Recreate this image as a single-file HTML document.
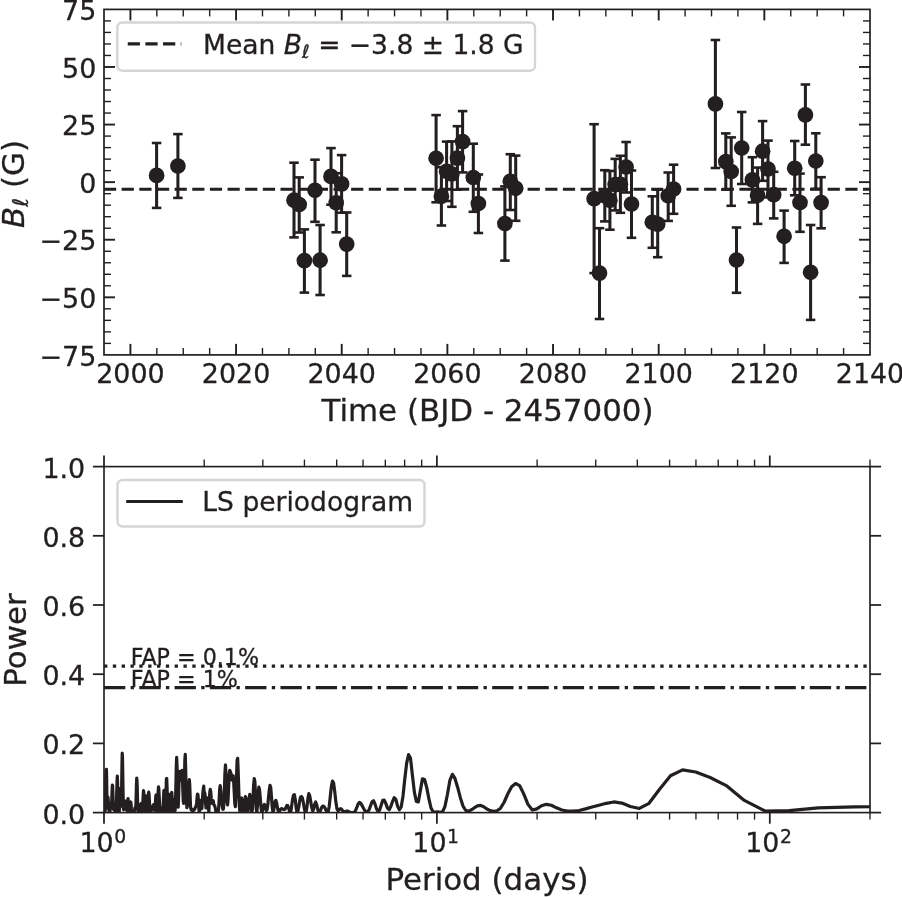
<!DOCTYPE html>
<html><head><meta charset="utf-8"><title>Figure</title><style>html,body{margin:0;padding:0;background:#fff}svg{display:block}</style></head><body>
<svg width="902" height="897" viewBox="0 0 902 897" font-family='"DejaVu Sans","Liberation Sans",sans-serif' fill="#231f20"><style>text{stroke:#231f20;stroke-width:0.3px}</style><defs><clipPath id="c2"><rect x="104.0" y="466.6" width="766.0" height="346.0"/></clipPath></defs>
<rect x="104.0" y="9.4" width="766.0" height="345.5" fill="none" stroke="#231f20" stroke-width="1.7"/>
<line x1="130.41" y1="354.90" x2="130.41" y2="343.90" stroke="#231f20" stroke-width="1.9" />
<line x1="130.41" y1="9.40" x2="130.41" y2="20.40" stroke="#231f20" stroke-width="1.9" />
<line x1="156.83" y1="354.90" x2="156.83" y2="347.90" stroke="#231f20" stroke-width="1.4" />
<line x1="156.83" y1="9.40" x2="156.83" y2="16.40" stroke="#231f20" stroke-width="1.4" />
<line x1="183.24" y1="354.90" x2="183.24" y2="347.90" stroke="#231f20" stroke-width="1.4" />
<line x1="183.24" y1="9.40" x2="183.24" y2="16.40" stroke="#231f20" stroke-width="1.4" />
<line x1="209.66" y1="354.90" x2="209.66" y2="347.90" stroke="#231f20" stroke-width="1.4" />
<line x1="209.66" y1="9.40" x2="209.66" y2="16.40" stroke="#231f20" stroke-width="1.4" />
<line x1="236.07" y1="354.90" x2="236.07" y2="343.90" stroke="#231f20" stroke-width="1.9" />
<line x1="236.07" y1="9.40" x2="236.07" y2="20.40" stroke="#231f20" stroke-width="1.9" />
<line x1="262.48" y1="354.90" x2="262.48" y2="347.90" stroke="#231f20" stroke-width="1.4" />
<line x1="262.48" y1="9.40" x2="262.48" y2="16.40" stroke="#231f20" stroke-width="1.4" />
<line x1="288.90" y1="354.90" x2="288.90" y2="347.90" stroke="#231f20" stroke-width="1.4" />
<line x1="288.90" y1="9.40" x2="288.90" y2="16.40" stroke="#231f20" stroke-width="1.4" />
<line x1="315.31" y1="354.90" x2="315.31" y2="347.90" stroke="#231f20" stroke-width="1.4" />
<line x1="315.31" y1="9.40" x2="315.31" y2="16.40" stroke="#231f20" stroke-width="1.4" />
<line x1="341.72" y1="354.90" x2="341.72" y2="343.90" stroke="#231f20" stroke-width="1.9" />
<line x1="341.72" y1="9.40" x2="341.72" y2="20.40" stroke="#231f20" stroke-width="1.9" />
<line x1="368.14" y1="354.90" x2="368.14" y2="347.90" stroke="#231f20" stroke-width="1.4" />
<line x1="368.14" y1="9.40" x2="368.14" y2="16.40" stroke="#231f20" stroke-width="1.4" />
<line x1="394.55" y1="354.90" x2="394.55" y2="347.90" stroke="#231f20" stroke-width="1.4" />
<line x1="394.55" y1="9.40" x2="394.55" y2="16.40" stroke="#231f20" stroke-width="1.4" />
<line x1="420.97" y1="354.90" x2="420.97" y2="347.90" stroke="#231f20" stroke-width="1.4" />
<line x1="420.97" y1="9.40" x2="420.97" y2="16.40" stroke="#231f20" stroke-width="1.4" />
<line x1="447.38" y1="354.90" x2="447.38" y2="343.90" stroke="#231f20" stroke-width="1.9" />
<line x1="447.38" y1="9.40" x2="447.38" y2="20.40" stroke="#231f20" stroke-width="1.9" />
<line x1="473.79" y1="354.90" x2="473.79" y2="347.90" stroke="#231f20" stroke-width="1.4" />
<line x1="473.79" y1="9.40" x2="473.79" y2="16.40" stroke="#231f20" stroke-width="1.4" />
<line x1="500.21" y1="354.90" x2="500.21" y2="347.90" stroke="#231f20" stroke-width="1.4" />
<line x1="500.21" y1="9.40" x2="500.21" y2="16.40" stroke="#231f20" stroke-width="1.4" />
<line x1="526.62" y1="354.90" x2="526.62" y2="347.90" stroke="#231f20" stroke-width="1.4" />
<line x1="526.62" y1="9.40" x2="526.62" y2="16.40" stroke="#231f20" stroke-width="1.4" />
<line x1="553.03" y1="354.90" x2="553.03" y2="343.90" stroke="#231f20" stroke-width="1.9" />
<line x1="553.03" y1="9.40" x2="553.03" y2="20.40" stroke="#231f20" stroke-width="1.9" />
<line x1="579.45" y1="354.90" x2="579.45" y2="347.90" stroke="#231f20" stroke-width="1.4" />
<line x1="579.45" y1="9.40" x2="579.45" y2="16.40" stroke="#231f20" stroke-width="1.4" />
<line x1="605.86" y1="354.90" x2="605.86" y2="347.90" stroke="#231f20" stroke-width="1.4" />
<line x1="605.86" y1="9.40" x2="605.86" y2="16.40" stroke="#231f20" stroke-width="1.4" />
<line x1="632.28" y1="354.90" x2="632.28" y2="347.90" stroke="#231f20" stroke-width="1.4" />
<line x1="632.28" y1="9.40" x2="632.28" y2="16.40" stroke="#231f20" stroke-width="1.4" />
<line x1="658.69" y1="354.90" x2="658.69" y2="343.90" stroke="#231f20" stroke-width="1.9" />
<line x1="658.69" y1="9.40" x2="658.69" y2="20.40" stroke="#231f20" stroke-width="1.9" />
<line x1="685.10" y1="354.90" x2="685.10" y2="347.90" stroke="#231f20" stroke-width="1.4" />
<line x1="685.10" y1="9.40" x2="685.10" y2="16.40" stroke="#231f20" stroke-width="1.4" />
<line x1="711.52" y1="354.90" x2="711.52" y2="347.90" stroke="#231f20" stroke-width="1.4" />
<line x1="711.52" y1="9.40" x2="711.52" y2="16.40" stroke="#231f20" stroke-width="1.4" />
<line x1="737.93" y1="354.90" x2="737.93" y2="347.90" stroke="#231f20" stroke-width="1.4" />
<line x1="737.93" y1="9.40" x2="737.93" y2="16.40" stroke="#231f20" stroke-width="1.4" />
<line x1="764.34" y1="354.90" x2="764.34" y2="343.90" stroke="#231f20" stroke-width="1.9" />
<line x1="764.34" y1="9.40" x2="764.34" y2="20.40" stroke="#231f20" stroke-width="1.9" />
<line x1="790.76" y1="354.90" x2="790.76" y2="347.90" stroke="#231f20" stroke-width="1.4" />
<line x1="790.76" y1="9.40" x2="790.76" y2="16.40" stroke="#231f20" stroke-width="1.4" />
<line x1="817.17" y1="354.90" x2="817.17" y2="347.90" stroke="#231f20" stroke-width="1.4" />
<line x1="817.17" y1="9.40" x2="817.17" y2="16.40" stroke="#231f20" stroke-width="1.4" />
<line x1="843.59" y1="354.90" x2="843.59" y2="347.90" stroke="#231f20" stroke-width="1.4" />
<line x1="843.59" y1="9.40" x2="843.59" y2="16.40" stroke="#231f20" stroke-width="1.4" />
<line x1="104.00" y1="343.38" x2="111.00" y2="343.38" stroke="#231f20" stroke-width="1.4" />
<line x1="870.00" y1="343.38" x2="863.00" y2="343.38" stroke="#231f20" stroke-width="1.4" />
<line x1="104.00" y1="331.87" x2="111.00" y2="331.87" stroke="#231f20" stroke-width="1.4" />
<line x1="870.00" y1="331.87" x2="863.00" y2="331.87" stroke="#231f20" stroke-width="1.4" />
<line x1="104.00" y1="320.35" x2="111.00" y2="320.35" stroke="#231f20" stroke-width="1.4" />
<line x1="870.00" y1="320.35" x2="863.00" y2="320.35" stroke="#231f20" stroke-width="1.4" />
<line x1="104.00" y1="308.83" x2="111.00" y2="308.83" stroke="#231f20" stroke-width="1.4" />
<line x1="870.00" y1="308.83" x2="863.00" y2="308.83" stroke="#231f20" stroke-width="1.4" />
<line x1="104.00" y1="297.32" x2="115.00" y2="297.32" stroke="#231f20" stroke-width="1.9" />
<line x1="870.00" y1="297.32" x2="859.00" y2="297.32" stroke="#231f20" stroke-width="1.9" />
<line x1="104.00" y1="285.80" x2="111.00" y2="285.80" stroke="#231f20" stroke-width="1.4" />
<line x1="870.00" y1="285.80" x2="863.00" y2="285.80" stroke="#231f20" stroke-width="1.4" />
<line x1="104.00" y1="274.28" x2="111.00" y2="274.28" stroke="#231f20" stroke-width="1.4" />
<line x1="870.00" y1="274.28" x2="863.00" y2="274.28" stroke="#231f20" stroke-width="1.4" />
<line x1="104.00" y1="262.77" x2="111.00" y2="262.77" stroke="#231f20" stroke-width="1.4" />
<line x1="870.00" y1="262.77" x2="863.00" y2="262.77" stroke="#231f20" stroke-width="1.4" />
<line x1="104.00" y1="251.25" x2="111.00" y2="251.25" stroke="#231f20" stroke-width="1.4" />
<line x1="870.00" y1="251.25" x2="863.00" y2="251.25" stroke="#231f20" stroke-width="1.4" />
<line x1="104.00" y1="239.73" x2="115.00" y2="239.73" stroke="#231f20" stroke-width="1.9" />
<line x1="870.00" y1="239.73" x2="859.00" y2="239.73" stroke="#231f20" stroke-width="1.9" />
<line x1="104.00" y1="228.22" x2="111.00" y2="228.22" stroke="#231f20" stroke-width="1.4" />
<line x1="870.00" y1="228.22" x2="863.00" y2="228.22" stroke="#231f20" stroke-width="1.4" />
<line x1="104.00" y1="216.70" x2="111.00" y2="216.70" stroke="#231f20" stroke-width="1.4" />
<line x1="870.00" y1="216.70" x2="863.00" y2="216.70" stroke="#231f20" stroke-width="1.4" />
<line x1="104.00" y1="205.18" x2="111.00" y2="205.18" stroke="#231f20" stroke-width="1.4" />
<line x1="870.00" y1="205.18" x2="863.00" y2="205.18" stroke="#231f20" stroke-width="1.4" />
<line x1="104.00" y1="193.67" x2="111.00" y2="193.67" stroke="#231f20" stroke-width="1.4" />
<line x1="870.00" y1="193.67" x2="863.00" y2="193.67" stroke="#231f20" stroke-width="1.4" />
<line x1="104.00" y1="182.15" x2="115.00" y2="182.15" stroke="#231f20" stroke-width="1.9" />
<line x1="870.00" y1="182.15" x2="859.00" y2="182.15" stroke="#231f20" stroke-width="1.9" />
<line x1="104.00" y1="170.63" x2="111.00" y2="170.63" stroke="#231f20" stroke-width="1.4" />
<line x1="870.00" y1="170.63" x2="863.00" y2="170.63" stroke="#231f20" stroke-width="1.4" />
<line x1="104.00" y1="159.12" x2="111.00" y2="159.12" stroke="#231f20" stroke-width="1.4" />
<line x1="870.00" y1="159.12" x2="863.00" y2="159.12" stroke="#231f20" stroke-width="1.4" />
<line x1="104.00" y1="147.60" x2="111.00" y2="147.60" stroke="#231f20" stroke-width="1.4" />
<line x1="870.00" y1="147.60" x2="863.00" y2="147.60" stroke="#231f20" stroke-width="1.4" />
<line x1="104.00" y1="136.08" x2="111.00" y2="136.08" stroke="#231f20" stroke-width="1.4" />
<line x1="870.00" y1="136.08" x2="863.00" y2="136.08" stroke="#231f20" stroke-width="1.4" />
<line x1="104.00" y1="124.57" x2="115.00" y2="124.57" stroke="#231f20" stroke-width="1.9" />
<line x1="870.00" y1="124.57" x2="859.00" y2="124.57" stroke="#231f20" stroke-width="1.9" />
<line x1="104.00" y1="113.05" x2="111.00" y2="113.05" stroke="#231f20" stroke-width="1.4" />
<line x1="870.00" y1="113.05" x2="863.00" y2="113.05" stroke="#231f20" stroke-width="1.4" />
<line x1="104.00" y1="101.53" x2="111.00" y2="101.53" stroke="#231f20" stroke-width="1.4" />
<line x1="870.00" y1="101.53" x2="863.00" y2="101.53" stroke="#231f20" stroke-width="1.4" />
<line x1="104.00" y1="90.02" x2="111.00" y2="90.02" stroke="#231f20" stroke-width="1.4" />
<line x1="870.00" y1="90.02" x2="863.00" y2="90.02" stroke="#231f20" stroke-width="1.4" />
<line x1="104.00" y1="78.50" x2="111.00" y2="78.50" stroke="#231f20" stroke-width="1.4" />
<line x1="870.00" y1="78.50" x2="863.00" y2="78.50" stroke="#231f20" stroke-width="1.4" />
<line x1="104.00" y1="66.98" x2="115.00" y2="66.98" stroke="#231f20" stroke-width="1.9" />
<line x1="870.00" y1="66.98" x2="859.00" y2="66.98" stroke="#231f20" stroke-width="1.9" />
<line x1="104.00" y1="55.47" x2="111.00" y2="55.47" stroke="#231f20" stroke-width="1.4" />
<line x1="870.00" y1="55.47" x2="863.00" y2="55.47" stroke="#231f20" stroke-width="1.4" />
<line x1="104.00" y1="43.95" x2="111.00" y2="43.95" stroke="#231f20" stroke-width="1.4" />
<line x1="870.00" y1="43.95" x2="863.00" y2="43.95" stroke="#231f20" stroke-width="1.4" />
<line x1="104.00" y1="32.43" x2="111.00" y2="32.43" stroke="#231f20" stroke-width="1.4" />
<line x1="870.00" y1="32.43" x2="863.00" y2="32.43" stroke="#231f20" stroke-width="1.4" />
<line x1="104.00" y1="20.92" x2="111.00" y2="20.92" stroke="#231f20" stroke-width="1.4" />
<line x1="870.00" y1="20.92" x2="863.00" y2="20.92" stroke="#231f20" stroke-width="1.4" />
<text x="130.41" y="383.3" font-size="26.9" text-anchor="middle">2000</text>
<text x="236.07" y="383.3" font-size="26.9" text-anchor="middle">2020</text>
<text x="341.72" y="383.3" font-size="26.9" text-anchor="middle">2040</text>
<text x="447.38" y="383.3" font-size="26.9" text-anchor="middle">2060</text>
<text x="553.03" y="383.3" font-size="26.9" text-anchor="middle">2080</text>
<text x="658.69" y="383.3" font-size="26.9" text-anchor="middle">2100</text>
<text x="764.34" y="383.3" font-size="26.9" text-anchor="middle">2120</text>
<text x="870.00" y="383.3" font-size="26.9" text-anchor="middle">2140</text>
<text x="96.3" y="365.50" font-size="26.9" text-anchor="end">−75</text>
<text x="96.3" y="307.92" font-size="26.9" text-anchor="end">−50</text>
<text x="96.3" y="250.33" font-size="26.9" text-anchor="end">−25</text>
<text x="96.3" y="192.75" font-size="26.9" text-anchor="end">0</text>
<text x="96.3" y="135.17" font-size="26.9" text-anchor="end">25</text>
<text x="96.3" y="77.58" font-size="26.9" text-anchor="end">50</text>
<text x="96.3" y="20.00" font-size="26.9" text-anchor="end">75</text>
<text x="487.5" y="420.8" font-size="30.9" text-anchor="middle">Time (BJD - 2457000)</text>
<text transform="translate(23.6,184) rotate(-90)" font-size="30.9" text-anchor="middle"><tspan font-style="oblique">B</tspan><tspan font-style="oblique" font-size="21.6" dy="4.5">ℓ</tspan><tspan dy="-4.5"> (G)</tspan></text>
<line x1="104.00" y1="189.20" x2="870.00" y2="189.20" stroke="#231f20" stroke-width="3.1" stroke-dasharray="12.2 5.45"/>
<line x1="156.60" y1="143.00" x2="156.60" y2="207.90" stroke="#231f20" stroke-width="3.05" />
<line x1="177.90" y1="134.10" x2="177.90" y2="197.90" stroke="#231f20" stroke-width="3.05" />
<line x1="294.00" y1="162.70" x2="294.00" y2="237.40" stroke="#231f20" stroke-width="3.05" />
<line x1="299.20" y1="177.40" x2="299.20" y2="232.50" stroke="#231f20" stroke-width="3.05" />
<line x1="304.40" y1="229.40" x2="304.40" y2="292.60" stroke="#231f20" stroke-width="3.05" />
<line x1="315.00" y1="159.70" x2="315.00" y2="221.80" stroke="#231f20" stroke-width="3.05" />
<line x1="320.10" y1="225.00" x2="320.10" y2="295.00" stroke="#231f20" stroke-width="3.05" />
<line x1="331.00" y1="148.10" x2="331.00" y2="204.70" stroke="#231f20" stroke-width="3.05" />
<line x1="336.20" y1="173.20" x2="336.20" y2="232.30" stroke="#231f20" stroke-width="3.05" />
<line x1="341.60" y1="155.10" x2="341.60" y2="212.70" stroke="#231f20" stroke-width="3.05" />
<line x1="346.70" y1="212.50" x2="346.70" y2="275.90" stroke="#231f20" stroke-width="3.05" />
<line x1="436.10" y1="115.10" x2="436.10" y2="202.30" stroke="#231f20" stroke-width="3.05" />
<line x1="441.40" y1="167.20" x2="441.40" y2="225.50" stroke="#231f20" stroke-width="3.05" />
<line x1="446.60" y1="141.60" x2="446.60" y2="201.00" stroke="#231f20" stroke-width="3.05" />
<line x1="451.90" y1="141.40" x2="451.90" y2="206.80" stroke="#231f20" stroke-width="3.05" />
<line x1="457.40" y1="126.20" x2="457.40" y2="189.70" stroke="#231f20" stroke-width="3.05" />
<line x1="462.60" y1="111.10" x2="462.60" y2="172.40" stroke="#231f20" stroke-width="3.05" />
<line x1="473.30" y1="143.70" x2="473.30" y2="211.80" stroke="#231f20" stroke-width="3.05" />
<line x1="478.40" y1="174.50" x2="478.40" y2="233.00" stroke="#231f20" stroke-width="3.05" />
<line x1="504.90" y1="186.40" x2="504.90" y2="260.60" stroke="#231f20" stroke-width="3.05" />
<line x1="510.30" y1="154.20" x2="510.30" y2="210.00" stroke="#231f20" stroke-width="3.05" />
<line x1="515.70" y1="155.60" x2="515.70" y2="220.80" stroke="#231f20" stroke-width="3.05" />
<line x1="594.10" y1="124.20" x2="594.10" y2="273.10" stroke="#231f20" stroke-width="3.05" />
<line x1="599.50" y1="228.20" x2="599.50" y2="319.00" stroke="#231f20" stroke-width="3.05" />
<line x1="604.80" y1="170.20" x2="604.80" y2="221.40" stroke="#231f20" stroke-width="3.05" />
<line x1="609.90" y1="170.90" x2="609.90" y2="229.70" stroke="#231f20" stroke-width="3.05" />
<line x1="615.20" y1="158.90" x2="615.20" y2="210.40" stroke="#231f20" stroke-width="3.05" />
<line x1="620.40" y1="155.80" x2="620.40" y2="212.80" stroke="#231f20" stroke-width="3.05" />
<line x1="626.10" y1="142.00" x2="626.10" y2="192.50" stroke="#231f20" stroke-width="3.05" />
<line x1="631.50" y1="170.50" x2="631.50" y2="237.80" stroke="#231f20" stroke-width="3.05" />
<line x1="652.30" y1="196.30" x2="652.30" y2="247.80" stroke="#231f20" stroke-width="3.05" />
<line x1="657.70" y1="189.70" x2="657.70" y2="257.20" stroke="#231f20" stroke-width="3.05" />
<line x1="668.20" y1="172.50" x2="668.20" y2="220.90" stroke="#231f20" stroke-width="3.05" />
<line x1="673.60" y1="164.70" x2="673.60" y2="213.80" stroke="#231f20" stroke-width="3.05" />
<line x1="715.40" y1="40.00" x2="715.40" y2="168.00" stroke="#231f20" stroke-width="3.05" />
<line x1="725.80" y1="133.40" x2="725.80" y2="189.60" stroke="#231f20" stroke-width="3.05" />
<line x1="731.20" y1="137.40" x2="731.20" y2="205.80" stroke="#231f20" stroke-width="3.05" />
<line x1="741.70" y1="112.00" x2="741.70" y2="184.00" stroke="#231f20" stroke-width="3.05" />
<line x1="752.40" y1="157.20" x2="752.40" y2="202.40" stroke="#231f20" stroke-width="3.05" />
<line x1="757.60" y1="167.60" x2="757.60" y2="223.90" stroke="#231f20" stroke-width="3.05" />
<line x1="762.60" y1="121.10" x2="762.60" y2="180.80" stroke="#231f20" stroke-width="3.05" />
<line x1="768.00" y1="140.60" x2="768.00" y2="197.30" stroke="#231f20" stroke-width="3.05" />
<line x1="773.70" y1="171.80" x2="773.70" y2="218.40" stroke="#231f20" stroke-width="3.05" />
<line x1="736.50" y1="227.50" x2="736.50" y2="292.80" stroke="#231f20" stroke-width="3.05" />
<line x1="784.10" y1="210.60" x2="784.10" y2="262.90" stroke="#231f20" stroke-width="3.05" />
<line x1="794.70" y1="141.00" x2="794.70" y2="195.30" stroke="#231f20" stroke-width="3.05" />
<line x1="800.00" y1="173.60" x2="800.00" y2="231.80" stroke="#231f20" stroke-width="3.05" />
<line x1="805.40" y1="84.50" x2="805.40" y2="144.70" stroke="#231f20" stroke-width="3.05" />
<line x1="810.60" y1="225.00" x2="810.60" y2="319.90" stroke="#231f20" stroke-width="3.05" />
<line x1="815.80" y1="133.30" x2="815.80" y2="188.90" stroke="#231f20" stroke-width="3.05" />
<line x1="821.10" y1="177.20" x2="821.10" y2="228.30" stroke="#231f20" stroke-width="3.05" />
<line x1="151.85" y1="143.00" x2="161.35" y2="143.00" stroke="#231f20" stroke-width="2.6" />
<line x1="151.85" y1="207.90" x2="161.35" y2="207.90" stroke="#231f20" stroke-width="2.6" />
<line x1="173.15" y1="134.10" x2="182.65" y2="134.10" stroke="#231f20" stroke-width="2.6" />
<line x1="173.15" y1="197.90" x2="182.65" y2="197.90" stroke="#231f20" stroke-width="2.6" />
<line x1="289.25" y1="162.70" x2="298.75" y2="162.70" stroke="#231f20" stroke-width="2.6" />
<line x1="289.25" y1="237.40" x2="298.75" y2="237.40" stroke="#231f20" stroke-width="2.6" />
<line x1="294.45" y1="177.40" x2="303.95" y2="177.40" stroke="#231f20" stroke-width="2.6" />
<line x1="294.45" y1="232.50" x2="303.95" y2="232.50" stroke="#231f20" stroke-width="2.6" />
<line x1="299.65" y1="229.40" x2="309.15" y2="229.40" stroke="#231f20" stroke-width="2.6" />
<line x1="299.65" y1="292.60" x2="309.15" y2="292.60" stroke="#231f20" stroke-width="2.6" />
<line x1="310.25" y1="159.70" x2="319.75" y2="159.70" stroke="#231f20" stroke-width="2.6" />
<line x1="310.25" y1="221.80" x2="319.75" y2="221.80" stroke="#231f20" stroke-width="2.6" />
<line x1="315.35" y1="225.00" x2="324.85" y2="225.00" stroke="#231f20" stroke-width="2.6" />
<line x1="315.35" y1="295.00" x2="324.85" y2="295.00" stroke="#231f20" stroke-width="2.6" />
<line x1="326.25" y1="148.10" x2="335.75" y2="148.10" stroke="#231f20" stroke-width="2.6" />
<line x1="326.25" y1="204.70" x2="335.75" y2="204.70" stroke="#231f20" stroke-width="2.6" />
<line x1="331.45" y1="173.20" x2="340.95" y2="173.20" stroke="#231f20" stroke-width="2.6" />
<line x1="331.45" y1="232.30" x2="340.95" y2="232.30" stroke="#231f20" stroke-width="2.6" />
<line x1="336.85" y1="155.10" x2="346.35" y2="155.10" stroke="#231f20" stroke-width="2.6" />
<line x1="336.85" y1="212.70" x2="346.35" y2="212.70" stroke="#231f20" stroke-width="2.6" />
<line x1="341.95" y1="212.50" x2="351.45" y2="212.50" stroke="#231f20" stroke-width="2.6" />
<line x1="341.95" y1="275.90" x2="351.45" y2="275.90" stroke="#231f20" stroke-width="2.6" />
<line x1="431.35" y1="115.10" x2="440.85" y2="115.10" stroke="#231f20" stroke-width="2.6" />
<line x1="431.35" y1="202.30" x2="440.85" y2="202.30" stroke="#231f20" stroke-width="2.6" />
<line x1="436.65" y1="167.20" x2="446.15" y2="167.20" stroke="#231f20" stroke-width="2.6" />
<line x1="436.65" y1="225.50" x2="446.15" y2="225.50" stroke="#231f20" stroke-width="2.6" />
<line x1="441.85" y1="141.60" x2="451.35" y2="141.60" stroke="#231f20" stroke-width="2.6" />
<line x1="441.85" y1="201.00" x2="451.35" y2="201.00" stroke="#231f20" stroke-width="2.6" />
<line x1="447.15" y1="141.40" x2="456.65" y2="141.40" stroke="#231f20" stroke-width="2.6" />
<line x1="447.15" y1="206.80" x2="456.65" y2="206.80" stroke="#231f20" stroke-width="2.6" />
<line x1="452.65" y1="126.20" x2="462.15" y2="126.20" stroke="#231f20" stroke-width="2.6" />
<line x1="452.65" y1="189.70" x2="462.15" y2="189.70" stroke="#231f20" stroke-width="2.6" />
<line x1="457.85" y1="111.10" x2="467.35" y2="111.10" stroke="#231f20" stroke-width="2.6" />
<line x1="457.85" y1="172.40" x2="467.35" y2="172.40" stroke="#231f20" stroke-width="2.6" />
<line x1="468.55" y1="143.70" x2="478.05" y2="143.70" stroke="#231f20" stroke-width="2.6" />
<line x1="468.55" y1="211.80" x2="478.05" y2="211.80" stroke="#231f20" stroke-width="2.6" />
<line x1="473.65" y1="174.50" x2="483.15" y2="174.50" stroke="#231f20" stroke-width="2.6" />
<line x1="473.65" y1="233.00" x2="483.15" y2="233.00" stroke="#231f20" stroke-width="2.6" />
<line x1="500.15" y1="186.40" x2="509.65" y2="186.40" stroke="#231f20" stroke-width="2.6" />
<line x1="500.15" y1="260.60" x2="509.65" y2="260.60" stroke="#231f20" stroke-width="2.6" />
<line x1="505.55" y1="154.20" x2="515.05" y2="154.20" stroke="#231f20" stroke-width="2.6" />
<line x1="505.55" y1="210.00" x2="515.05" y2="210.00" stroke="#231f20" stroke-width="2.6" />
<line x1="510.95" y1="155.60" x2="520.45" y2="155.60" stroke="#231f20" stroke-width="2.6" />
<line x1="510.95" y1="220.80" x2="520.45" y2="220.80" stroke="#231f20" stroke-width="2.6" />
<line x1="589.35" y1="124.20" x2="598.85" y2="124.20" stroke="#231f20" stroke-width="2.6" />
<line x1="589.35" y1="273.10" x2="598.85" y2="273.10" stroke="#231f20" stroke-width="2.6" />
<line x1="594.75" y1="228.20" x2="604.25" y2="228.20" stroke="#231f20" stroke-width="2.6" />
<line x1="594.75" y1="319.00" x2="604.25" y2="319.00" stroke="#231f20" stroke-width="2.6" />
<line x1="600.05" y1="170.20" x2="609.55" y2="170.20" stroke="#231f20" stroke-width="2.6" />
<line x1="600.05" y1="221.40" x2="609.55" y2="221.40" stroke="#231f20" stroke-width="2.6" />
<line x1="605.15" y1="170.90" x2="614.65" y2="170.90" stroke="#231f20" stroke-width="2.6" />
<line x1="605.15" y1="229.70" x2="614.65" y2="229.70" stroke="#231f20" stroke-width="2.6" />
<line x1="610.45" y1="158.90" x2="619.95" y2="158.90" stroke="#231f20" stroke-width="2.6" />
<line x1="610.45" y1="210.40" x2="619.95" y2="210.40" stroke="#231f20" stroke-width="2.6" />
<line x1="615.65" y1="155.80" x2="625.15" y2="155.80" stroke="#231f20" stroke-width="2.6" />
<line x1="615.65" y1="212.80" x2="625.15" y2="212.80" stroke="#231f20" stroke-width="2.6" />
<line x1="621.35" y1="142.00" x2="630.85" y2="142.00" stroke="#231f20" stroke-width="2.6" />
<line x1="621.35" y1="192.50" x2="630.85" y2="192.50" stroke="#231f20" stroke-width="2.6" />
<line x1="626.75" y1="170.50" x2="636.25" y2="170.50" stroke="#231f20" stroke-width="2.6" />
<line x1="626.75" y1="237.80" x2="636.25" y2="237.80" stroke="#231f20" stroke-width="2.6" />
<line x1="647.55" y1="196.30" x2="657.05" y2="196.30" stroke="#231f20" stroke-width="2.6" />
<line x1="647.55" y1="247.80" x2="657.05" y2="247.80" stroke="#231f20" stroke-width="2.6" />
<line x1="652.95" y1="189.70" x2="662.45" y2="189.70" stroke="#231f20" stroke-width="2.6" />
<line x1="652.95" y1="257.20" x2="662.45" y2="257.20" stroke="#231f20" stroke-width="2.6" />
<line x1="663.45" y1="172.50" x2="672.95" y2="172.50" stroke="#231f20" stroke-width="2.6" />
<line x1="663.45" y1="220.90" x2="672.95" y2="220.90" stroke="#231f20" stroke-width="2.6" />
<line x1="668.85" y1="164.70" x2="678.35" y2="164.70" stroke="#231f20" stroke-width="2.6" />
<line x1="668.85" y1="213.80" x2="678.35" y2="213.80" stroke="#231f20" stroke-width="2.6" />
<line x1="710.65" y1="40.00" x2="720.15" y2="40.00" stroke="#231f20" stroke-width="2.6" />
<line x1="710.65" y1="168.00" x2="720.15" y2="168.00" stroke="#231f20" stroke-width="2.6" />
<line x1="721.05" y1="133.40" x2="730.55" y2="133.40" stroke="#231f20" stroke-width="2.6" />
<line x1="721.05" y1="189.60" x2="730.55" y2="189.60" stroke="#231f20" stroke-width="2.6" />
<line x1="726.45" y1="137.40" x2="735.95" y2="137.40" stroke="#231f20" stroke-width="2.6" />
<line x1="726.45" y1="205.80" x2="735.95" y2="205.80" stroke="#231f20" stroke-width="2.6" />
<line x1="736.95" y1="112.00" x2="746.45" y2="112.00" stroke="#231f20" stroke-width="2.6" />
<line x1="736.95" y1="184.00" x2="746.45" y2="184.00" stroke="#231f20" stroke-width="2.6" />
<line x1="747.65" y1="157.20" x2="757.15" y2="157.20" stroke="#231f20" stroke-width="2.6" />
<line x1="747.65" y1="202.40" x2="757.15" y2="202.40" stroke="#231f20" stroke-width="2.6" />
<line x1="752.85" y1="167.60" x2="762.35" y2="167.60" stroke="#231f20" stroke-width="2.6" />
<line x1="752.85" y1="223.90" x2="762.35" y2="223.90" stroke="#231f20" stroke-width="2.6" />
<line x1="757.85" y1="121.10" x2="767.35" y2="121.10" stroke="#231f20" stroke-width="2.6" />
<line x1="757.85" y1="180.80" x2="767.35" y2="180.80" stroke="#231f20" stroke-width="2.6" />
<line x1="763.25" y1="140.60" x2="772.75" y2="140.60" stroke="#231f20" stroke-width="2.6" />
<line x1="763.25" y1="197.30" x2="772.75" y2="197.30" stroke="#231f20" stroke-width="2.6" />
<line x1="768.95" y1="171.80" x2="778.45" y2="171.80" stroke="#231f20" stroke-width="2.6" />
<line x1="768.95" y1="218.40" x2="778.45" y2="218.40" stroke="#231f20" stroke-width="2.6" />
<line x1="731.75" y1="227.50" x2="741.25" y2="227.50" stroke="#231f20" stroke-width="2.6" />
<line x1="731.75" y1="292.80" x2="741.25" y2="292.80" stroke="#231f20" stroke-width="2.6" />
<line x1="779.35" y1="210.60" x2="788.85" y2="210.60" stroke="#231f20" stroke-width="2.6" />
<line x1="779.35" y1="262.90" x2="788.85" y2="262.90" stroke="#231f20" stroke-width="2.6" />
<line x1="789.95" y1="141.00" x2="799.45" y2="141.00" stroke="#231f20" stroke-width="2.6" />
<line x1="789.95" y1="195.30" x2="799.45" y2="195.30" stroke="#231f20" stroke-width="2.6" />
<line x1="795.25" y1="173.60" x2="804.75" y2="173.60" stroke="#231f20" stroke-width="2.6" />
<line x1="795.25" y1="231.80" x2="804.75" y2="231.80" stroke="#231f20" stroke-width="2.6" />
<line x1="800.65" y1="84.50" x2="810.15" y2="84.50" stroke="#231f20" stroke-width="2.6" />
<line x1="800.65" y1="144.70" x2="810.15" y2="144.70" stroke="#231f20" stroke-width="2.6" />
<line x1="805.85" y1="225.00" x2="815.35" y2="225.00" stroke="#231f20" stroke-width="2.6" />
<line x1="805.85" y1="319.90" x2="815.35" y2="319.90" stroke="#231f20" stroke-width="2.6" />
<line x1="811.05" y1="133.30" x2="820.55" y2="133.30" stroke="#231f20" stroke-width="2.6" />
<line x1="811.05" y1="188.90" x2="820.55" y2="188.90" stroke="#231f20" stroke-width="2.6" />
<line x1="816.35" y1="177.20" x2="825.85" y2="177.20" stroke="#231f20" stroke-width="2.6" />
<line x1="816.35" y1="228.30" x2="825.85" y2="228.30" stroke="#231f20" stroke-width="2.6" />
<circle cx="156.6" cy="175.4" r="7.85" fill="#231f20"/>
<circle cx="177.9" cy="166.0" r="7.85" fill="#231f20"/>
<circle cx="294.0" cy="200.2" r="7.85" fill="#231f20"/>
<circle cx="299.2" cy="204.5" r="7.85" fill="#231f20"/>
<circle cx="304.4" cy="260.6" r="7.85" fill="#231f20"/>
<circle cx="315.0" cy="190.3" r="7.85" fill="#231f20"/>
<circle cx="320.1" cy="260.2" r="7.85" fill="#231f20"/>
<circle cx="331.0" cy="176.4" r="7.85" fill="#231f20"/>
<circle cx="336.2" cy="202.8" r="7.85" fill="#231f20"/>
<circle cx="341.6" cy="183.9" r="7.85" fill="#231f20"/>
<circle cx="346.7" cy="244.1" r="7.85" fill="#231f20"/>
<circle cx="436.1" cy="158.3" r="7.85" fill="#231f20"/>
<circle cx="441.4" cy="196.3" r="7.85" fill="#231f20"/>
<circle cx="446.6" cy="171.3" r="7.85" fill="#231f20"/>
<circle cx="451.9" cy="174.0" r="7.85" fill="#231f20"/>
<circle cx="457.4" cy="158.1" r="7.85" fill="#231f20"/>
<circle cx="462.6" cy="141.6" r="7.85" fill="#231f20"/>
<circle cx="473.3" cy="177.5" r="7.85" fill="#231f20"/>
<circle cx="478.4" cy="203.5" r="7.85" fill="#231f20"/>
<circle cx="504.9" cy="223.5" r="7.85" fill="#231f20"/>
<circle cx="510.3" cy="181.3" r="7.85" fill="#231f20"/>
<circle cx="515.7" cy="188.3" r="7.85" fill="#231f20"/>
<circle cx="594.1" cy="198.7" r="7.85" fill="#231f20"/>
<circle cx="599.5" cy="273.1" r="7.85" fill="#231f20"/>
<circle cx="604.8" cy="195.8" r="7.85" fill="#231f20"/>
<circle cx="609.9" cy="200.3" r="7.85" fill="#231f20"/>
<circle cx="615.2" cy="184.6" r="7.85" fill="#231f20"/>
<circle cx="620.4" cy="184.3" r="7.85" fill="#231f20"/>
<circle cx="626.1" cy="167.0" r="7.85" fill="#231f20"/>
<circle cx="631.5" cy="204.0" r="7.85" fill="#231f20"/>
<circle cx="652.3" cy="222.3" r="7.85" fill="#231f20"/>
<circle cx="657.7" cy="224.1" r="7.85" fill="#231f20"/>
<circle cx="668.2" cy="195.8" r="7.85" fill="#231f20"/>
<circle cx="673.6" cy="189.0" r="7.85" fill="#231f20"/>
<circle cx="715.4" cy="103.9" r="7.85" fill="#231f20"/>
<circle cx="725.8" cy="161.6" r="7.85" fill="#231f20"/>
<circle cx="731.2" cy="171.5" r="7.85" fill="#231f20"/>
<circle cx="741.7" cy="148.0" r="7.85" fill="#231f20"/>
<circle cx="752.4" cy="179.9" r="7.85" fill="#231f20"/>
<circle cx="757.6" cy="195.3" r="7.85" fill="#231f20"/>
<circle cx="762.6" cy="151.2" r="7.85" fill="#231f20"/>
<circle cx="768.0" cy="169.0" r="7.85" fill="#231f20"/>
<circle cx="773.7" cy="194.7" r="7.85" fill="#231f20"/>
<circle cx="736.5" cy="260.0" r="7.85" fill="#231f20"/>
<circle cx="784.1" cy="236.3" r="7.85" fill="#231f20"/>
<circle cx="794.7" cy="168.3" r="7.85" fill="#231f20"/>
<circle cx="800.0" cy="202.5" r="7.85" fill="#231f20"/>
<circle cx="805.4" cy="114.9" r="7.85" fill="#231f20"/>
<circle cx="810.6" cy="272.3" r="7.85" fill="#231f20"/>
<circle cx="815.8" cy="161.0" r="7.85" fill="#231f20"/>
<circle cx="821.1" cy="202.6" r="7.85" fill="#231f20"/>
<rect x="117.3" y="22.5" width="417.7" height="48.2" rx="5" ry="5" fill="#fff" fill-opacity="0.8" stroke="#d4d5d6" stroke-width="2.4"/>
<line x1="127.75" y1="43.90" x2="180.20" y2="43.90" stroke="#231f20" stroke-width="3.1" stroke-dasharray="12.2 5.45"/>
<line x1="180.2" y1="43.9" x2="181.9" y2="43.9" stroke="#231f20" stroke-width="3.1" stroke-opacity="0.35"/>
<text x="203.0" y="53.8" font-size="26.55">Mean <tspan font-style="oblique">B</tspan><tspan font-style="oblique" font-size="18.6" dy="4">ℓ</tspan><tspan dy="-4"> = −3.8 ± 1.8 G</tspan></text>
<rect x="104.0" y="466.6" width="766.0" height="346.0" fill="none" stroke="#231f20" stroke-width="1.65"/>
<line x1="104.00" y1="812.60" x2="104.00" y2="823.70" stroke="#231f20" stroke-width="1.75" />
<line x1="104.00" y1="466.60" x2="104.00" y2="455.50" stroke="#231f20" stroke-width="1.75" />
<line x1="204.21" y1="812.60" x2="204.21" y2="819.60" stroke="#231f20" stroke-width="1.35" />
<line x1="204.21" y1="466.60" x2="204.21" y2="459.60" stroke="#231f20" stroke-width="1.35" />
<line x1="262.83" y1="812.60" x2="262.83" y2="819.60" stroke="#231f20" stroke-width="1.35" />
<line x1="262.83" y1="466.60" x2="262.83" y2="459.60" stroke="#231f20" stroke-width="1.35" />
<line x1="304.42" y1="812.60" x2="304.42" y2="819.60" stroke="#231f20" stroke-width="1.35" />
<line x1="304.42" y1="466.60" x2="304.42" y2="459.60" stroke="#231f20" stroke-width="1.35" />
<line x1="336.68" y1="812.60" x2="336.68" y2="819.60" stroke="#231f20" stroke-width="1.35" />
<line x1="336.68" y1="466.60" x2="336.68" y2="459.60" stroke="#231f20" stroke-width="1.35" />
<line x1="363.04" y1="812.60" x2="363.04" y2="819.60" stroke="#231f20" stroke-width="1.35" />
<line x1="363.04" y1="466.60" x2="363.04" y2="459.60" stroke="#231f20" stroke-width="1.35" />
<line x1="385.33" y1="812.60" x2="385.33" y2="819.60" stroke="#231f20" stroke-width="1.35" />
<line x1="385.33" y1="466.60" x2="385.33" y2="459.60" stroke="#231f20" stroke-width="1.35" />
<line x1="404.63" y1="812.60" x2="404.63" y2="819.60" stroke="#231f20" stroke-width="1.35" />
<line x1="404.63" y1="466.60" x2="404.63" y2="459.60" stroke="#231f20" stroke-width="1.35" />
<line x1="421.66" y1="812.60" x2="421.66" y2="819.60" stroke="#231f20" stroke-width="1.35" />
<line x1="421.66" y1="466.60" x2="421.66" y2="459.60" stroke="#231f20" stroke-width="1.35" />
<line x1="436.89" y1="812.60" x2="436.89" y2="823.70" stroke="#231f20" stroke-width="1.75" />
<line x1="436.89" y1="466.60" x2="436.89" y2="455.50" stroke="#231f20" stroke-width="1.75" />
<line x1="537.11" y1="812.60" x2="537.11" y2="819.60" stroke="#231f20" stroke-width="1.35" />
<line x1="537.11" y1="466.60" x2="537.11" y2="459.60" stroke="#231f20" stroke-width="1.35" />
<line x1="595.73" y1="812.60" x2="595.73" y2="819.60" stroke="#231f20" stroke-width="1.35" />
<line x1="595.73" y1="466.60" x2="595.73" y2="459.60" stroke="#231f20" stroke-width="1.35" />
<line x1="637.32" y1="812.60" x2="637.32" y2="819.60" stroke="#231f20" stroke-width="1.35" />
<line x1="637.32" y1="466.60" x2="637.32" y2="459.60" stroke="#231f20" stroke-width="1.35" />
<line x1="669.58" y1="812.60" x2="669.58" y2="819.60" stroke="#231f20" stroke-width="1.35" />
<line x1="669.58" y1="466.60" x2="669.58" y2="459.60" stroke="#231f20" stroke-width="1.35" />
<line x1="695.94" y1="812.60" x2="695.94" y2="819.60" stroke="#231f20" stroke-width="1.35" />
<line x1="695.94" y1="466.60" x2="695.94" y2="459.60" stroke="#231f20" stroke-width="1.35" />
<line x1="718.22" y1="812.60" x2="718.22" y2="819.60" stroke="#231f20" stroke-width="1.35" />
<line x1="718.22" y1="466.60" x2="718.22" y2="459.60" stroke="#231f20" stroke-width="1.35" />
<line x1="737.53" y1="812.60" x2="737.53" y2="819.60" stroke="#231f20" stroke-width="1.35" />
<line x1="737.53" y1="466.60" x2="737.53" y2="459.60" stroke="#231f20" stroke-width="1.35" />
<line x1="754.56" y1="812.60" x2="754.56" y2="819.60" stroke="#231f20" stroke-width="1.35" />
<line x1="754.56" y1="466.60" x2="754.56" y2="459.60" stroke="#231f20" stroke-width="1.35" />
<line x1="769.79" y1="812.60" x2="769.79" y2="823.70" stroke="#231f20" stroke-width="1.75" />
<line x1="769.79" y1="466.60" x2="769.79" y2="455.50" stroke="#231f20" stroke-width="1.75" />
<line x1="870.00" y1="812.60" x2="870.00" y2="819.60" stroke="#231f20" stroke-width="1.35" />
<line x1="870.00" y1="466.60" x2="870.00" y2="459.60" stroke="#231f20" stroke-width="1.35" />
<line x1="104.00" y1="812.60" x2="92.90" y2="812.60" stroke="#231f20" stroke-width="1.75" />
<line x1="870.00" y1="812.60" x2="881.10" y2="812.60" stroke="#231f20" stroke-width="1.75" />
<text x="85.2" y="823.60" font-size="26.9" text-anchor="end">0.0</text>
<line x1="104.00" y1="743.40" x2="92.90" y2="743.40" stroke="#231f20" stroke-width="1.75" />
<line x1="870.00" y1="743.40" x2="881.10" y2="743.40" stroke="#231f20" stroke-width="1.75" />
<text x="85.2" y="754.40" font-size="26.9" text-anchor="end">0.2</text>
<line x1="104.00" y1="674.20" x2="92.90" y2="674.20" stroke="#231f20" stroke-width="1.75" />
<line x1="870.00" y1="674.20" x2="881.10" y2="674.20" stroke="#231f20" stroke-width="1.75" />
<text x="85.2" y="685.20" font-size="26.9" text-anchor="end">0.4</text>
<line x1="104.00" y1="605.00" x2="92.90" y2="605.00" stroke="#231f20" stroke-width="1.75" />
<line x1="870.00" y1="605.00" x2="881.10" y2="605.00" stroke="#231f20" stroke-width="1.75" />
<text x="85.2" y="616.00" font-size="26.9" text-anchor="end">0.6</text>
<line x1="104.00" y1="535.80" x2="92.90" y2="535.80" stroke="#231f20" stroke-width="1.75" />
<line x1="870.00" y1="535.80" x2="881.10" y2="535.80" stroke="#231f20" stroke-width="1.75" />
<text x="85.2" y="546.80" font-size="26.9" text-anchor="end">0.8</text>
<line x1="104.00" y1="466.60" x2="92.90" y2="466.60" stroke="#231f20" stroke-width="1.75" />
<line x1="870.00" y1="466.60" x2="881.10" y2="466.60" stroke="#231f20" stroke-width="1.75" />
<text x="85.2" y="477.60" font-size="26.9" text-anchor="end">1.0</text>
<text x="102.80" y="852.2" font-size="26.9" text-anchor="middle">10<tspan font-size="18.8" dy="-9.7" dx="0.5">0</tspan></text>
<text x="435.69" y="852.2" font-size="26.9" text-anchor="middle">10<tspan font-size="18.8" dy="-9.7" dx="0.5">1</tspan></text>
<text x="768.59" y="852.2" font-size="26.9" text-anchor="middle">10<tspan font-size="18.8" dy="-9.7" dx="0.5">2</tspan></text>
<text x="487" y="890" font-size="30.9" text-anchor="middle">Period (days)</text>
<text transform="translate(26.3,640) rotate(-90)" font-size="30.9" text-anchor="middle">Power</text>
<line x1="104.00" y1="666.20" x2="870.00" y2="666.20" stroke="#231f20" stroke-width="3.2" stroke-dasharray="3.33 5.5"/>
<line x1="104.00" y1="687.70" x2="870.00" y2="687.70" stroke="#231f20" stroke-width="3.2" stroke-dasharray="21.3 5.33 3.33 5.33"/>
<text x="130.7" y="664.6" font-size="22.2">FAP = 0.1%</text>
<text x="130.7" y="686.9" font-size="22.2">FAP = 1%</text>
<path d="M101.14,770.62 L101.37,774.73 L101.59,783.06 L101.82,793.11 L102.04,804.79 L102.27,809.69 L102.50,807.90 L102.73,806.36 L102.95,806.79 L103.18,808.16 L103.41,810.15 L103.64,783.93 L103.87,794.59 L104.10,801.22 L104.33,804.80 L104.56,807.14 L104.79,809.74 L105.02,812.38 L105.25,808.09 L105.49,791.48 L105.72,777.07 L105.95,772.57 L106.18,770.01 L106.42,769.29 L106.65,777.26 L106.89,794.73 L107.12,808.03 L107.36,807.00 L107.59,800.79 L107.83,797.04 L108.06,797.69 L108.30,801.12 L108.54,805.01 L108.77,808.21 L109.01,810.41 L109.25,811.61 L109.49,812.08 L109.73,812.08 L109.97,811.46 L110.21,809.64 L110.45,806.49 L110.69,803.63 L110.93,803.31 L111.17,806.00 L111.41,807.94 L111.65,804.10 L111.90,795.79 L112.14,788.59 L112.38,785.12 L112.63,786.19 L112.87,792.54 L113.12,800.86 L113.36,806.65 L113.61,809.21 L113.85,809.89 L114.10,809.68 L114.35,808.82 L114.59,807.88 L114.84,808.09 L115.09,809.51 L115.34,811.16 L115.59,812.25 L115.83,812.15 L116.08,810.08 L116.33,805.22 L116.59,797.43 L116.84,788.07 L117.09,779.42 L117.34,775.99 L117.59,782.83 L117.84,795.57 L118.10,805.72 L118.35,810.86 L118.61,812.41 L118.86,812.57 L119.11,812.32 L119.37,810.33 L119.63,804.80 L119.88,796.26 L120.14,789.46 L120.40,788.43 L120.65,794.02 L120.91,803.60 L121.17,806.09 L121.43,798.16 L121.69,784.11 L121.95,765.40 L122.21,753.06 L122.47,757.06 L122.73,770.06 L122.99,786.93 L123.26,801.97 L123.52,809.36 L123.78,809.76 L124.05,805.45 L124.31,800.74 L124.58,801.77 L124.84,805.87 L125.11,808.95 L125.37,809.15 L125.64,805.60 L125.91,801.96 L126.18,801.02 L126.44,803.46 L126.71,808.27 L126.98,810.66 L127.25,809.00 L127.52,804.97 L127.79,800.27 L128.06,798.58 L128.33,801.67 L128.61,806.52 L128.88,810.59 L129.15,812.50 L129.43,812.04 L129.70,809.85 L129.98,807.03 L130.25,804.51 L130.53,802.51 L130.80,802.05 L131.08,804.48 L131.36,808.39 L131.64,811.23 L131.92,812.38 L132.19,812.49 L132.47,812.31 L132.75,811.98 L133.03,811.48 L133.32,811.04 L133.60,811.14 L133.88,811.80 L134.16,811.96 L134.45,810.65 L134.73,808.58 L135.02,807.65 L135.30,808.44 L135.59,808.76 L135.87,805.29 L136.16,796.27 L136.45,784.73 L136.73,778.06 L137.02,780.57 L137.31,790.10 L137.60,801.66 L137.89,810.07 L138.18,812.45 L138.47,810.19 L138.77,806.59 L139.06,804.49 L139.35,804.52 L139.65,806.00 L139.94,808.80 L140.24,811.75 L140.53,812.49 L140.83,810.10 L141.12,806.09 L141.42,803.31 L141.72,804.23 L142.02,808.72 L142.32,812.18 L142.62,809.30 L142.92,801.69 L143.22,794.60 L143.52,790.71 L143.82,792.56 L144.13,801.12 L144.43,809.70 L144.74,812.18 L145.04,809.45 L145.35,803.81 L145.65,798.20 L145.96,795.80 L146.27,796.21 L146.58,798.80 L146.88,804.21 L147.19,809.65 L147.50,812.41 L147.82,810.88 L148.13,803.82 L148.44,795.16 L148.75,792.13 L149.07,794.79 L149.38,800.10 L149.69,806.55 L150.01,811.59 L150.33,812.21 L150.64,810.31 L150.96,808.74 L151.28,808.29 L151.60,809.19 L151.92,810.27 L152.24,809.64 L152.56,807.61 L152.88,805.94 L153.21,805.11 L153.53,804.64 L153.85,805.12 L154.18,807.35 L154.50,809.96 L154.83,810.55 L155.16,807.66 L155.48,801.69 L155.81,796.14 L156.14,795.01 L156.47,798.94 L156.80,805.61 L157.14,810.71 L157.47,810.01 L157.80,802.43 L158.13,792.53 L158.47,786.89 L158.80,788.32 L159.14,794.77 L159.48,802.59 L159.82,808.80 L160.15,811.89 L160.49,811.73 L160.83,809.64 L161.17,807.76 L161.52,807.60 L161.86,809.17 L162.20,811.28 L162.55,812.46 L162.89,810.70 L163.24,804.22 L163.58,795.88 L163.93,790.33 L164.28,790.34 L164.63,797.25 L164.98,807.56 L165.33,812.59 L165.68,806.59 L166.03,791.55 L166.39,778.78 L166.74,778.49 L167.10,788.92 L167.45,802.37 L167.81,811.43 L168.17,811.22 L168.53,804.16 L168.89,796.26 L169.25,794.34 L169.61,799.93 L169.97,807.27 L170.33,811.98 L170.70,810.72 L171.06,802.32 L171.43,794.03 L171.80,792.45 L172.16,798.15 L172.53,807.01 L172.90,811.56 L173.27,809.73 L173.65,803.96 L174.02,800.14 L174.39,802.81 L174.77,808.87 L175.14,810.49 L175.52,801.32 L175.90,784.52 L176.27,766.71 L176.65,757.25 L177.03,765.36 L177.42,784.34 L177.80,800.96 L178.18,807.18 L178.57,798.52 L178.95,784.68 L179.34,775.09 L179.73,771.40 L180.11,776.41 L180.50,780.10 L180.90,778.12 L181.29,776.87 L181.68,772.74 L182.07,770.43 L182.47,778.53 L182.86,791.25 L183.26,801.24 L183.66,803.41 L184.06,795.80 L184.46,778.97 L184.86,759.28 L185.26,754.32 L185.67,769.01 L186.07,788.19 L186.48,801.44 L186.89,807.71 L187.30,806.30 L187.70,799.85 L188.12,793.76 L188.53,788.94 L188.94,783.00 L189.35,779.67 L189.77,785.44 L190.19,797.74 L190.60,806.96 L191.02,809.61 L191.44,809.22 L191.87,809.45 L192.29,811.02 L192.71,812.18 L193.14,811.45 L193.56,809.91 L193.99,809.21 L194.42,809.41 L194.85,808.91 L195.28,807.54 L195.72,806.77 L196.15,805.72 L196.58,802.98 L197.02,798.31 L197.46,794.07 L197.90,794.30 L198.34,799.26 L198.78,807.78 L199.23,812.51 L199.67,806.80 L200.12,801.22 L200.56,800.51 L201.01,804.02 L201.46,808.79 L201.92,808.47 L202.37,800.71 L202.82,793.09 L203.28,789.28 L203.74,786.12 L204.20,794.16 L204.66,792.54 L205.12,795.61 L205.58,803.55 L206.05,808.00 L206.51,805.76 L206.98,800.82 L207.45,797.97 L207.92,799.70 L208.39,807.24 L208.87,811.99 L209.34,799.91 L209.82,791.83 L210.30,789.44 L210.78,791.96 L211.26,798.64 L211.74,803.28 L212.23,803.37 L212.72,801.19 L213.20,800.64 L213.70,803.32 L214.19,805.29 L214.68,805.76 L215.18,807.57 L215.67,810.33 L216.17,812.17 L216.67,812.20 L217.17,811.53 L217.68,811.63 L218.18,811.64 L218.69,807.77 L219.20,798.34 L219.71,788.84 L220.22,785.62 L220.74,789.61 L221.25,796.47 L221.77,801.98 L222.29,806.34 L222.81,809.29 L223.34,809.18 L223.86,804.15 L224.39,790.81 L224.92,773.08 L225.45,764.74 L225.98,773.24 L226.52,789.25 L227.06,801.18 L227.60,804.91 L228.14,798.73 L228.68,785.93 L229.23,774.67 L229.78,770.40 L230.33,771.66 L230.88,773.16 L231.43,776.12 L231.99,780.03 L232.55,777.61 L233.11,775.73 L233.67,781.92 L234.23,792.28 L234.80,803.59 L235.37,806.59 L235.94,795.86 L236.51,777.23 L237.09,760.16 L237.67,758.33 L238.25,772.98 L238.83,792.04 L239.42,806.90 L240.00,812.22 L240.60,807.60 L241.19,800.68 L241.78,797.99 L242.38,801.46 L242.98,808.07 L243.58,812.01 L244.19,810.00 L244.79,802.64 L245.40,796.60 L246.02,798.27 L246.63,805.55 L247.25,811.88 L247.87,811.49 L248.49,805.88 L249.12,798.49 L249.75,794.38 L250.38,797.69 L251.01,805.88 L251.65,812.04 L252.29,810.37 L252.93,799.38 L253.58,786.20 L254.23,778.60 L254.88,781.70 L255.53,795.11 L256.19,808.68 L256.85,812.33 L257.51,804.78 L258.18,793.08 L258.85,787.15 L259.52,789.75 L260.20,797.12 L260.87,805.97 L261.56,811.54 L262.24,811.74 L262.93,809.08 L263.62,805.87 L264.32,804.36 L265.02,805.60 L265.72,808.51 L266.42,810.64 L267.13,809.61 L267.84,804.56 L268.56,797.10 L269.28,789.71 L270.00,785.36 L270.73,787.27 L271.46,796.63 L272.19,807.11 L272.93,811.90 L273.67,810.24 L274.42,805.50 L275.17,801.32 L275.92,800.32 L276.68,803.12 L277.44,807.70 L278.20,810.99 L278.97,811.76 L279.74,810.70 L280.52,809.28 L281.30,808.67 L282.09,808.82 L282.88,809.16 L283.67,809.40 L284.47,809.42 L285.27,808.84 L286.08,807.21 L286.89,805.45 L287.71,805.62 L288.53,807.90 L289.36,810.83 L290.19,812.59 L291.03,810.43 L291.87,804.40 L292.71,798.60 L293.56,795.05 L294.42,794.76 L295.28,799.67 L296.14,807.83 L297.01,812.31 L297.89,811.31 L298.77,806.89 L299.66,801.14 L300.55,797.14 L301.45,796.53 L302.35,797.96 L303.26,802.09 L304.18,807.84 L305.10,811.82 L306.02,812.06 L306.96,807.17 L307.90,798.53 L308.84,793.64 L309.79,795.92 L310.75,801.62 L311.71,807.32 L312.68,810.79 L313.66,809.26 L314.64,804.39 L315.63,802.00 L316.63,804.55 L317.64,808.94 L318.65,812.00 L319.66,812.33 L320.69,810.06 L321.72,807.20 L322.76,806.01 L323.81,806.36 L324.87,807.75 L325.93,810.11 L327.00,812.27 L328.08,811.96 L329.17,806.76 L330.26,796.77 L331.36,786.55 L332.48,781.05 L333.60,782.90 L334.73,791.45 L335.87,802.08 L337.01,809.05 L338.17,810.81 L339.34,809.65 L340.51,808.57 L341.70,809.36 L342.89,811.13 L344.10,811.99 L345.31,811.61 L346.54,811.05 L347.77,811.17 L349.02,811.77 L350.27,812.27 L351.54,812.51 L352.82,812.59 L354.11,812.30 L355.42,810.84 L356.73,807.71 L358.06,804.11 L359.40,802.42 L360.75,803.31 L362.11,805.59 L363.49,808.23 L364.88,810.69 L366.28,812.15 L367.70,811.89 L369.13,809.63 L370.58,805.72 L372.04,801.74 L373.51,800.68 L375.00,804.01 L376.51,808.72 L378.03,811.37 L379.57,810.30 L381.12,805.17 L382.69,800.40 L384.28,800.18 L385.89,803.62 L387.51,808.13 L389.16,809.67 L390.82,806.53 L392.50,801.57 L394.20,797.65 L395.92,799.56 L397.66,806.41 L399.43,809.74 L401.21,806.87 L403.02,795.95 L404.85,778.50 L406.70,762.92 L408.58,754.65 L410.48,758.10 L412.41,775.13 L414.36,792.10 L416.34,801.45 L418.35,801.91 L420.39,790.39 L422.45,778.86 L424.55,779.53 L426.67,787.33 L428.83,798.41 L431.02,808.01 L433.25,812.02 L435.51,812.12 L437.80,811.73 L440.13,812.42 L442.50,811.93 L444.91,806.60 L447.36,794.74 L449.86,780.46 L452.39,774.31 L454.97,778.46 L457.60,787.20 L460.28,797.41 L463.01,806.07 L465.79,810.48 L468.62,811.14 L471.52,809.80 L474.47,807.71 L477.48,805.91 L480.55,805.37 L483.70,806.76 L486.91,809.06 L490.20,810.66 L493.56,811.23 L497.00,810.71 L500.53,808.18 L504.14,802.25 L507.85,793.76 L511.65,786.67 L515.56,783.55 L519.58,785.57 L523.71,793.84 L527.96,804.39 L532.34,810.04 L536.86,808.87 L541.52,805.74 L546.34,804.31 L551.33,805.28 L556.49,807.82 L561.85,810.00 L567.41,811.05 L573.19,811.20 L579.22,810.53 L585.51,808.90 L592.08,806.97 L598.96,805.24 L606.19,803.31 L613.81,801.96 L621.84,803.05 L630.35,806.51 L639.38,808.45 L649.03,803.32 L659.36,789.50 L670.48,775.78 L682.54,769.85 L695.69,772.03 L710.16,777.51 L726.24,785.56 L744.34,800.39 L765.03,811.01 L789.18,810.56 L818.19,807.88 L854.52,806.81 L903.17,806.61 L977.02,806.61 L1135.85,806.62" fill="none" stroke="#231f20" stroke-width="3.2" stroke-linejoin="round" clip-path="url(#c2)"/>
<rect x="117.5" y="480" width="307" height="46.5" rx="5" ry="5" fill="#fff" fill-opacity="0.8" stroke="#d4d5d6" stroke-width="2.4"/>
<line x1="126.20" y1="501.50" x2="182.80" y2="501.50" stroke="#231f20" stroke-width="3.2" />
<text x="202.3" y="510.9" font-size="26.55">LS periodogram</text>
</svg>
</body></html>
